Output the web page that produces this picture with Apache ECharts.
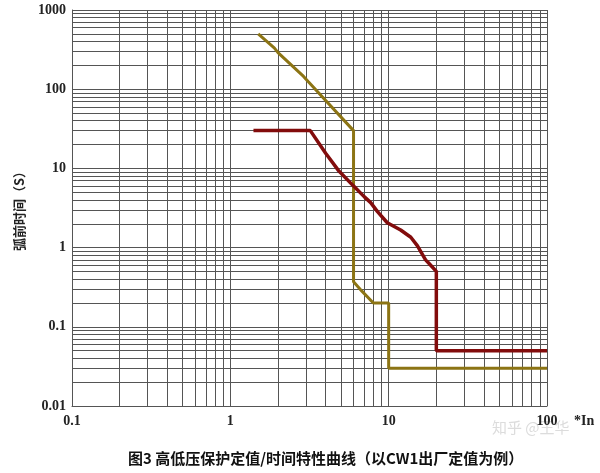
<!DOCTYPE html>
<html><head><meta charset="utf-8">
<script src="https://cdn.jsdelivr.net/npm/echarts@6/dist/echarts.min.js"></script>
<style>html,body{margin:0;padding:0;background:#fff}#c{width:600px;height:473px}</style>
</head><body><div id="c"></div>
<script>
// Olive curve (high-voltage / upper characteristic)
const oliveCurve = [[1.5,500],[1.9,330],[2,290],[2.9,145],[3.1,125],[6,30],[6,0.37],[6.8,0.28],[8,0.2],[10,0.2],[10,0.03],[100,0.03]];
// Dark red curve
const redCurve = [[1.4,30],[3.2,30],[4,15.5],[4.8,9.5],[5.9,6.2],[7,4.4],[7.7,3.7],[8.5,2.85],[9.8,2.06],[11.9,1.67],[13.8,1.35],[15.2,1.05],[17.1,0.7],[18,0.63],[20,0.5],[20,0.05],[100,0.05]];
// Grid line positions
const xGridValues = [0.1,0.2,0.3,0.4,0.5,0.6,0.7,0.8,0.9,1,2,3,4,5,6,7,8,9,10,20,30,40,50,60,70,80,90,100];
const yGridValues = [0.01,0.02,0.03,0.04,0.05,0.06,0.07,0.08,0.09,0.1,0.2,0.3,0.4,0.5,0.6,0.7,0.8,0.9,1,2,3,4,5,6,7,8,9,10,20,30,40,50,60,70,80,90,100,200,300,400,500,600,700,800,900,1000];
const xTickLabels = {0.1:'0.1',1:'1',10:'10',100:'100'};
const yTickLabels = {0.01:'0.01',0.1:'0.1',1:'1',10:'10',100:'100',1000:'1000'};

const chart = echarts.init(document.getElementById('c'));
const gridLineStyle = {color:'#555', width:1, type:'solid'};
const markData = xGridValues.map(v=>({xAxis:v})).concat(yGridValues.map(v=>({yAxis:v})));
const tickFont = {fontFamily:'Liberation Serif', fontWeight:'bold', fontSize:14, color:'#222'};

chart.setOption({
  animation:false,
  backgroundColor:'#fff',
  grid:{left:72, right:53, top:10, bottom:67},
  xAxis:{type:'log', logBase:10, min:0.1, max:100,
    axisLine:{show:true, lineStyle:{color:'#555'}}, axisTick:{show:false},
    splitLine:{show:false},
    axisLabel:Object.assign({margin:8, formatter:v=>xTickLabels[+v.toPrecision(3)]||''}, tickFont)},
  yAxis:{type:'log', logBase:10, min:0.01, max:1000,
    name:'弧前时间（S）', nameLocation:'middle', nameGap:46, nameRotate:90,
    nameTextStyle:{fontFamily:'Noto Sans CJK SC', fontSize:13, fontWeight:'bold', color:'#222'},
    axisLine:{show:true, lineStyle:{color:'#555'}}, axisTick:{show:false},
    splitLine:{show:false},
    axisLabel:Object.assign({margin:6, formatter:v=>yTickLabels[+v.toPrecision(3)]||''}, tickFont)},
  graphic:[
    {type:'text', left:574, top:414, style:{text:'*In', font:'bold 14px "Liberation Serif"', fill:'#222'}},
    {type:'text', left:492, top:420, style:{text:'知乎 @王华', font:'15px "Noto Sans CJK SC"', fill:'#dcdcdc'}},
    {type:'text', left:128, top:451, style:{text:'图3 高低压保护定值/时间特性曲线（以CW1出厂定值为例）', font:'bold 15px "Noto Sans CJK SC"', fill:'#111'}}
  ],
  series:[
    {type:'line', data:[], silent:true, z:1,
      markLine:{silent:true, symbol:'none', label:{show:false}, lineStyle:gridLineStyle, emphasis:{disabled:true}, data:markData}},
    {type:'line', data:oliveCurve, showSymbol:false, symbol:'none', z:5, lineStyle:{color:'#8c7414', width:3}},
    {type:'line', data:redCurve, showSymbol:false, symbol:'none', z:6, lineStyle:{color:'#820c0c', width:3.5}}
  ]
});
</script></body></html>
